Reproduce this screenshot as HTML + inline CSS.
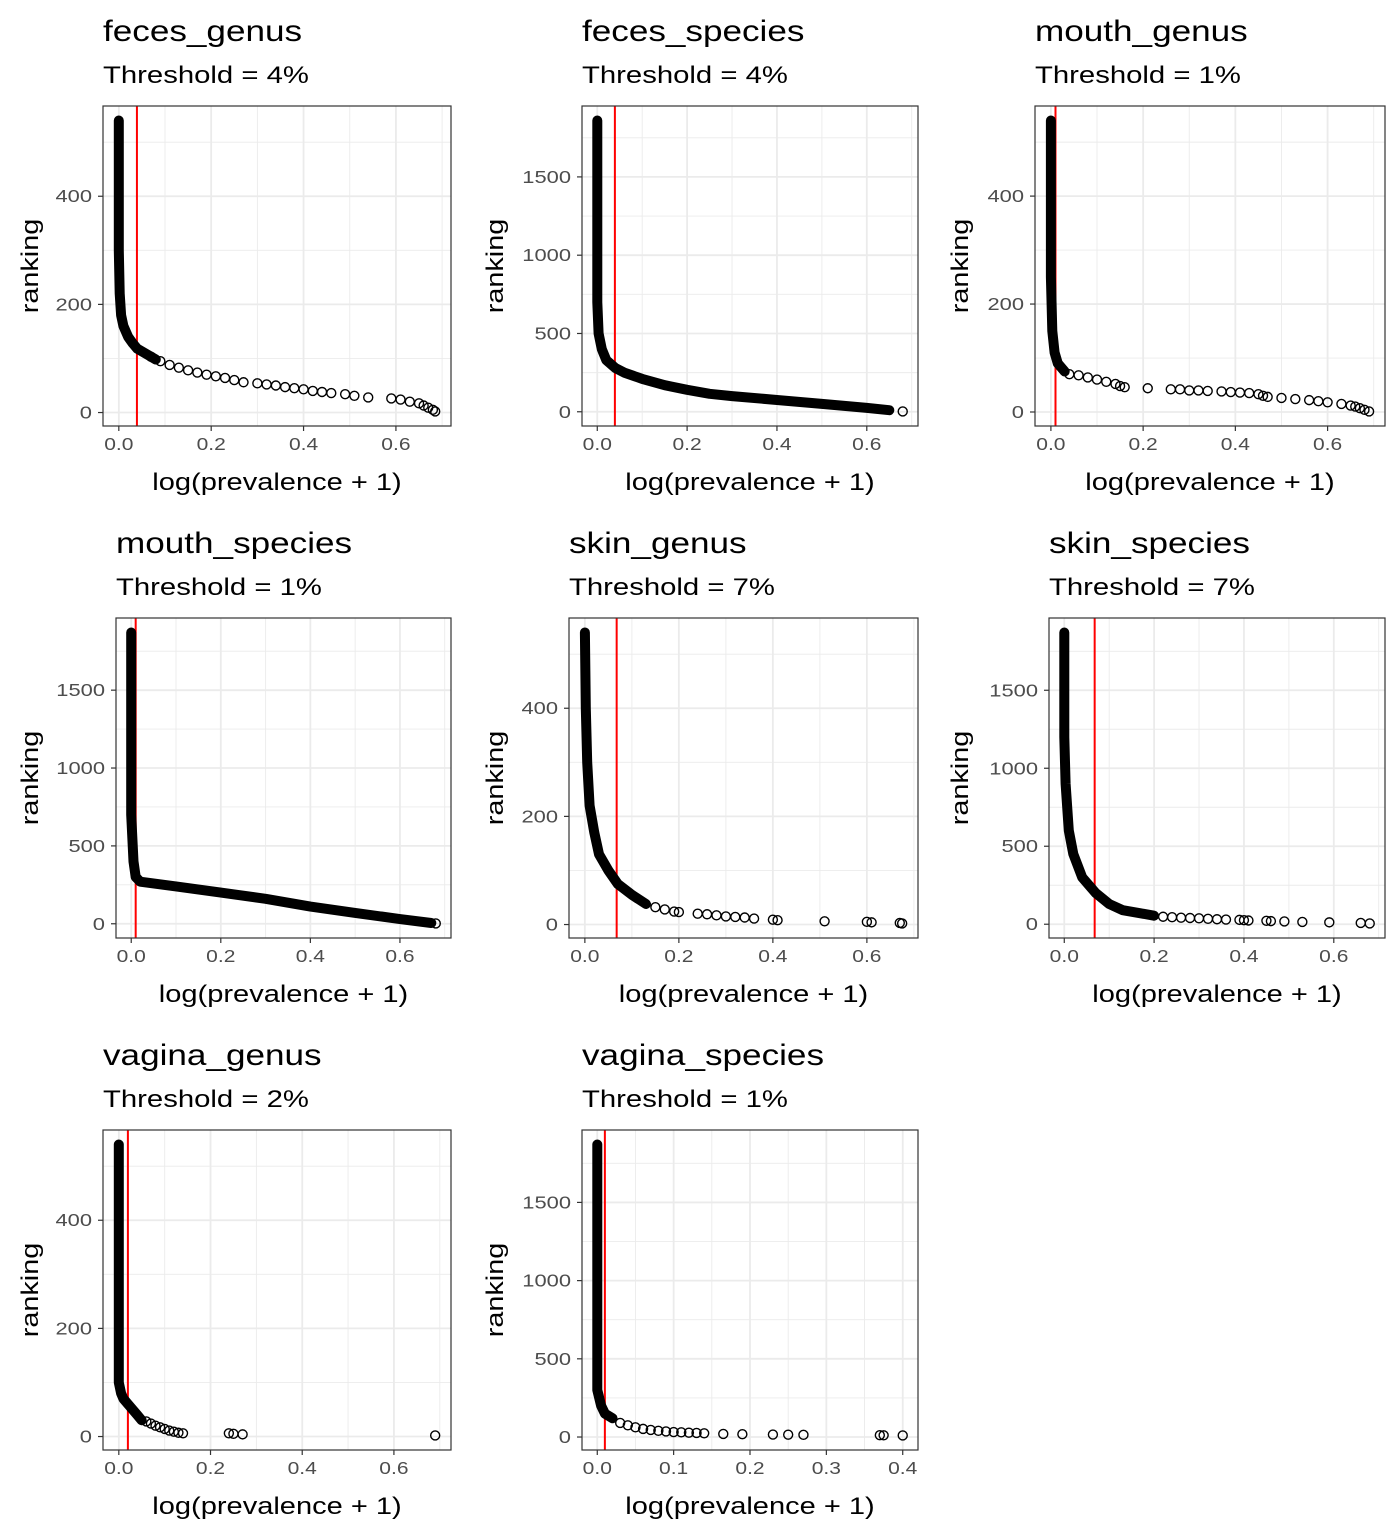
<!DOCTYPE html>
<html><head><meta charset="utf-8"><style>
body{margin:0;background:#fff}
svg{display:block;font-family:"Liberation Sans",sans-serif}
</style></head><body>
<svg id="chart" width="1400" height="1536" viewBox="0 0 1400 1536"></svg>
<script>
const panelNames = ["feces_genus","feces_species","mouth_genus","mouth_species","skin_genus","skin_species","vagina_genus","vagina_species"];
const thresholds = [0.04,0.04,0.01,0.01,0.07,0.07,0.02,0.01];
const thresholdLabels = ["4%","4%","1%","1%","7%","7%","2%","1%"];
const xTicks = [[0,0.2,0.4,0.6],[0,0.2,0.4,0.6],[0,0.2,0.4,0.6],[0,0.2,0.4,0.6],[0,0.2,0.4,0.6],[0,0.2,0.4,0.6],[0,0.2,0.4,0.6],[0,0.1,0.2,0.3,0.4]];
const yTicks = [[0,200,400],[0,500,1000,1500],[0,200,400],[0,500,1000,1500],[0,200,400],[0,500,1000,1500],[0,200,400],[0,500,1000,1500]];
// dense (solid) segments: [prevalence, rank]
const denseData = [
 [[0,540],[0,300],[0.002,220],[0.005,180],[0.01,160],[0.02,140],[0.03,128],[0.04,118],[0.06,108],[0.08,98]],
 [[0,1860],[0,700],[0.003,500],[0.01,400],[0.02,330],[0.04,280],[0.06,250],[0.1,210],[0.15,170],[0.2,140],[0.25,115],[0.3,100],[0.4,75],[0.5,50],[0.6,25],[0.65,10]],
 [[0,540],[0,250],[0.003,150],[0.008,110],[0.015,90],[0.03,75]],
 [[0,1870],[0,700],[0.005,400],[0.01,300],[0.02,270],[0.1,240],[0.2,200],[0.3,160],[0.4,110],[0.5,70],[0.6,30],[0.67,5]],
 [[0,540],[0.002,400],[0.005,300],[0.01,220],[0.02,170],[0.03,130],[0.05,100],[0.07,75],[0.1,55],[0.13,38]],
 [[0,1870],[0,1200],[0.003,900],[0.01,600],[0.02,450],[0.04,300],[0.07,200],[0.1,130],[0.13,90],[0.17,70],[0.2,55]],
 [[0,540],[0,100],[0.005,80],[0.01,70],[0.02,60],[0.03,50],[0.04,40],[0.05,30]],
 [[0,1870],[0,300],[0.005,200],[0.01,150],[0.02,120]]
];
const sparseData = [
 [[0.07,103],[0.09,95],[0.11,88],[0.13,83],[0.15,78],[0.17,74],[0.19,70],[0.21,67],[0.23,64],[0.25,60],[0.27,56],[0.3,54],[0.32,52],[0.34,50],[0.36,47],[0.38,45],[0.4,43],[0.42,40],[0.44,38],[0.46,36],[0.49,34],[0.51,31],[0.54,28],[0.59,26],[0.61,24],[0.63,20],[0.65,17],[0.66,13],[0.67,9],[0.68,5],[0.685,2]],
 [[0.68,2]],
 [[0.04,70],[0.06,68],[0.08,64],[0.1,60],[0.12,56],[0.14,52],[0.15,48],[0.16,46],[0.21,44],[0.26,42],[0.28,42],[0.3,40],[0.32,40],[0.34,39],[0.37,38],[0.39,37],[0.41,36],[0.43,35],[0.45,33],[0.46,30],[0.47,28],[0.5,26],[0.53,24],[0.56,22],[0.58,20],[0.6,18],[0.63,15],[0.65,12],[0.66,10],[0.67,7],[0.68,4],[0.69,1]],
 [[0.68,2]],
 [[0.15,32],[0.17,28],[0.19,24],[0.2,23],[0.24,20],[0.26,19],[0.28,17],[0.3,15],[0.32,14],[0.34,13],[0.36,11],[0.4,9],[0.41,8],[0.51,6],[0.6,5],[0.61,4],[0.67,3],[0.675,2]],
 [[0.22,48],[0.24,45],[0.26,42],[0.28,40],[0.3,38],[0.32,35],[0.34,32],[0.36,30],[0.39,28],[0.4,26],[0.41,24],[0.45,22],[0.46,20],[0.49,18],[0.53,15],[0.59,12],[0.66,8],[0.68,5]],
 [[0.06,28],[0.07,24],[0.08,20],[0.09,17],[0.1,14],[0.11,11],[0.12,9],[0.13,7],[0.14,6],[0.24,6],[0.25,5],[0.27,4],[0.69,2]],
 [[0.03,90],[0.04,75],[0.05,62],[0.06,52],[0.07,45],[0.08,40],[0.09,36],[0.1,32],[0.11,30],[0.12,28],[0.13,26],[0.14,24],[0.165,20],[0.19,18],[0.23,16],[0.25,15],[0.27,14],[0.37,12],[0.375,11],[0.4,10]]
];
const rects=[[103,106,451,426],[582,106,918,426],[1035,106,1385,426],[116,618,451,938],[569,618,918,938],[1049,618,1385,938],[103,1130,451,1450],[582,1130,918,1450]];
const yTitleX=[38,503,968,38,503,968,38,503];
const NS="http://www.w3.org/2000/svg";
const svg=document.getElementById('chart');
function mk(tag,attrs,parent){const e=document.createElementNS(NS,tag);for(const k in attrs)e.setAttribute(k,attrs[k]);parent.appendChild(e);return e;}
function widen(t,f){const w=t.getComputedTextLength();t.setAttribute('textLength',(w*f).toFixed(1));t.setAttribute('lengthAdjust','spacingAndGlyphs');}
panelNames.forEach((name,i)=>{
  const [x0,y0,x1,y1]=rects[i];
  const g=mk('g',{},svg);
  
  
  const all=denseData[i].concat(sparseData[i]);
  let xmin=Math.min(...all.map(p=>p[0])),xmax=Math.max(...all.map(p=>p[0]));
  let ymin=Math.min(...all.map(p=>p[1])),ymax=Math.max(...all.map(p=>p[1]));
  const xp=(xmax-xmin)*0.05,yp=(ymax-ymin)*0.05;xmin-=xp;xmax+=xp;ymin-=yp;ymax+=yp;
  const sx=v=>x0+(v-xmin)/(xmax-xmin)*(x1-x0);
  const sy=v=>y1-(v-ymin)/(ymax-ymin)*(y1-y0);
  mk('rect',{x:x0,y:y0,width:x1-x0,height:y1-y0,fill:'#fff'},g);
  const xt=xTicks[i],yt=yTicks[i];
  const xs=xt[1]-xt[0],ys=yt[1]-yt[0];
  for(let v=xt[0]-xs/2;v<=xmax;v+=xs/2){if(v<xmin)continue;const m=Math.abs(Math.round(v/xs)-v/xs)<1e-6;mk('line',{x1:sx(v),x2:sx(v),y1:y0,y2:y1,stroke:'#ebebeb','stroke-width':m?1.8:0.9},g);}
  for(let v=yt[0]-ys/2;v<=ymax;v+=ys/2){if(v<ymin)continue;const m=Math.abs(Math.round(v/ys)-v/ys)<1e-6;mk('line',{x1:x0,x2:x1,y1:sy(v),y2:sy(v),stroke:'#ebebeb','stroke-width':m?1.8:0.9},g);}
  const tl=mk('line',{x1:sx(Math.log(1+thresholds[i])),x2:sx(Math.log(1+thresholds[i])),y1:y0,y2:y1,stroke:'#ff0000','stroke-width':2},g);
  
  
  const d=denseData[i].map((p,k)=>(k?'L':'M')+sx(p[0]).toFixed(1)+','+sy(p[1]).toFixed(1)).join('');
  const dp=mk('path',{d:d,fill:'none',stroke:'#000','stroke-width':10,'stroke-linecap':'round','stroke-linejoin':'round'},g);
  
  
  sparseData[i].forEach(p=>{
    const c=mk('circle',{cx:sx(p[0]),cy:sy(p[1]),r:4.5,fill:'none',stroke:'#000','stroke-width':1.4},g);
    
    
  });
  mk('rect',{x:x0,y:y0,width:x1-x0,height:y1-y0,fill:'none',stroke:'#333','stroke-width':1.2},g);
  xt.forEach(v=>{
    mk('line',{x1:sx(v),x2:sx(v),y1:y1,y2:y1+5,stroke:'#333','stroke-width':1.2},g);
    const t=mk('text',{x:sx(v),y:y1+24,'text-anchor':'middle','font-size':17.5,fill:'#4d4d4d'},g);t.textContent=v.toFixed(1);
    
    
    widen(t,1.2);
  });
  yt.forEach(v=>{
    mk('line',{x1:x0-5,x2:x0,y1:sy(v),y2:sy(v),stroke:'#333','stroke-width':1.2},g);
    const t=mk('text',{x:x0-11,y:sy(v)+6,'text-anchor':'end','font-size':17.5,fill:'#4d4d4d'},g);t.textContent=v;
    
    
    widen(t,1.25);
  });
  const xa=mk('text',{x:(x0+x1)/2,y:y1+64,'text-anchor':'middle','font-size':24,fill:'#000'},g);xa.textContent='log(prevalence + 1)';
  
  
  widen(xa,1.21);
  const ya=mk('text',{x:0,y:0,'text-anchor':'middle','font-size':24,fill:'#000',transform:`translate(${yTitleX[i]},${(y0+y1)/2}) rotate(-90)`},g);ya.textContent='ranking';
  
  
  widen(ya,1.2);
  const ti=mk('text',{x:x0,y:y0-65,'font-size':30,fill:'#000'},g);ti.textContent=name;
  
  
  widen(ti,1.17);
  const st=mk('text',{x:x0,y:y0-23,'font-size':24,fill:'#000'},g);st.textContent='Threshold = '+thresholdLabels[i];
  
  
  widen(st,1.22);
});
</script>
</body></html>
